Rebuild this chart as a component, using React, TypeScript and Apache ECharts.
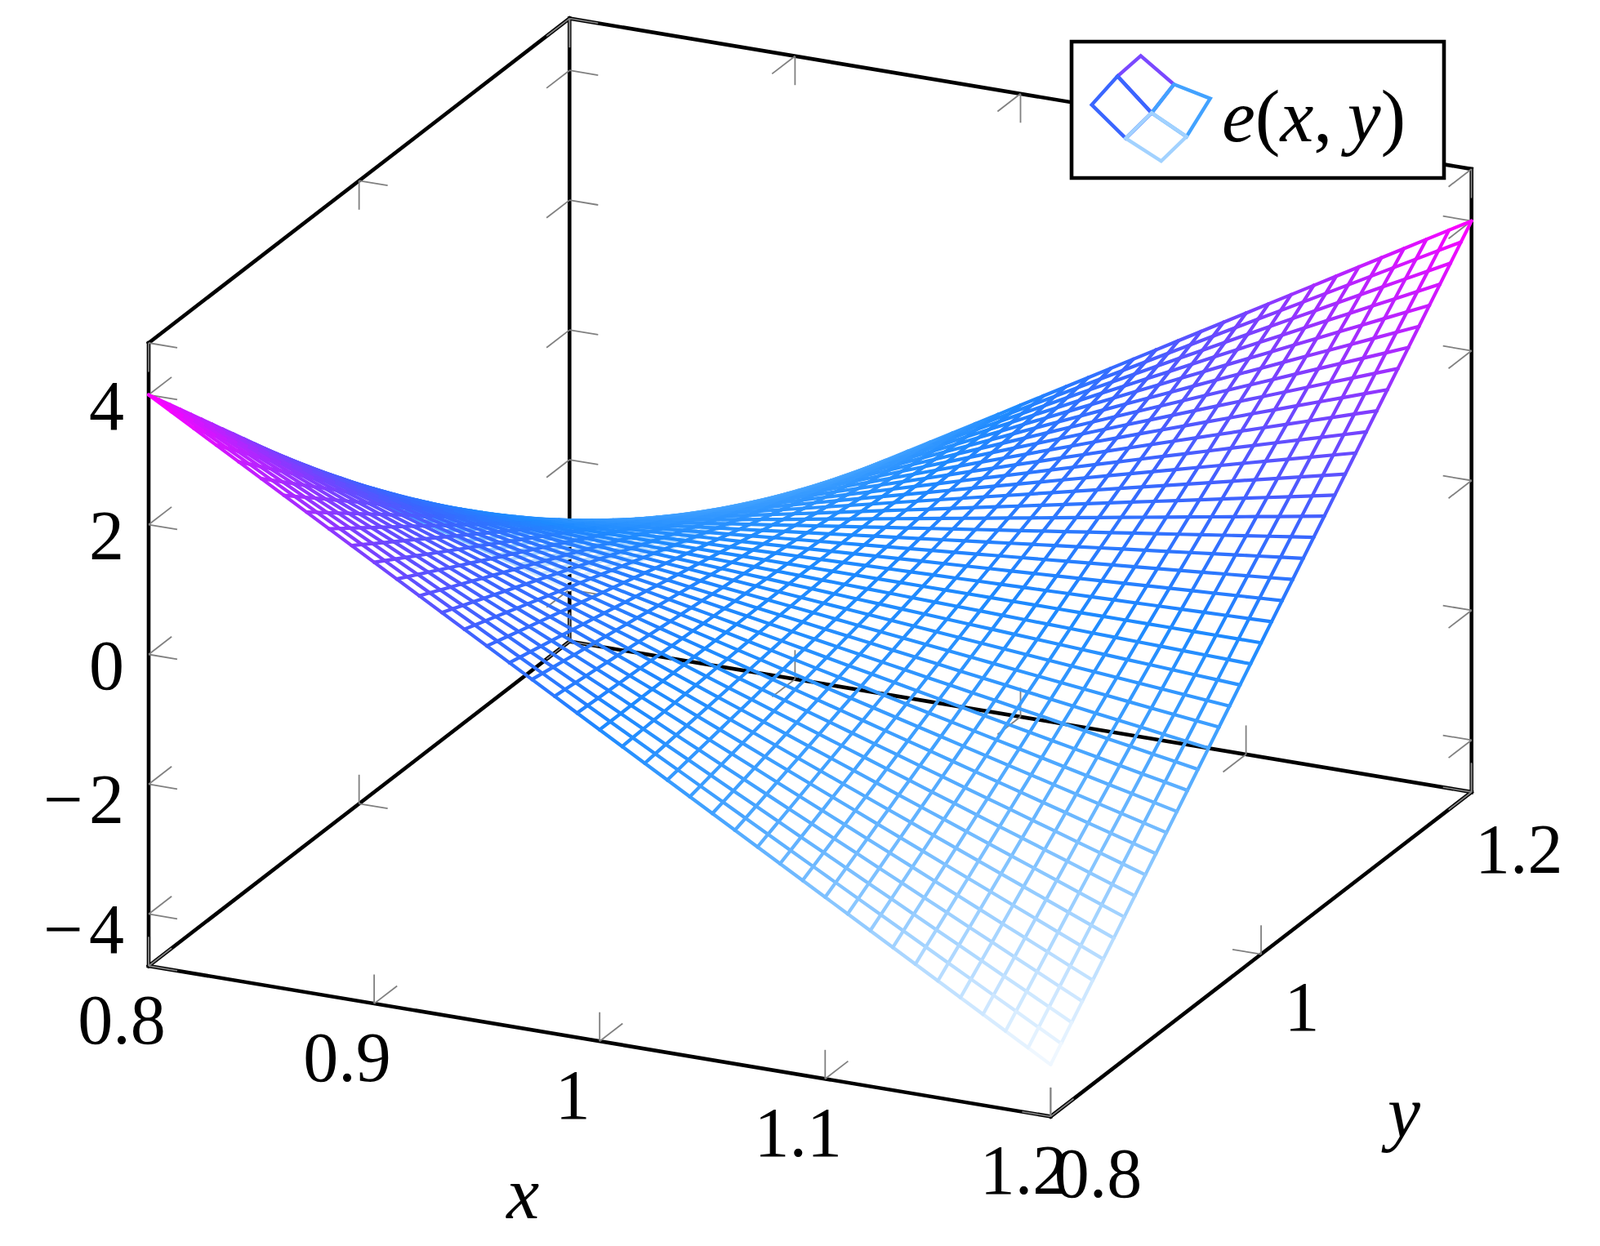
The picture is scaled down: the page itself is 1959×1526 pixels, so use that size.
import React, { useEffect, useRef } from "react";
import * as echarts from "echarts";

const W = 1959;
const H = 1526;

// ---------------- data ----------------
const gridX = [0.8, 0.9, 1.0, 1.1, 1.2];
const gridY = [0.8, 0.9, 1.0, 1.1, 1.2];
// e(x, y) at the tick grid, rows = x, columns = y (ruled saddle surface)
const eValues = [
  [4, 2, 0, -2, -4],
  [2, 1, 0, -1, -2],
  [0, 0, 0, 0, 0],
  [-2, -1, 0, 1, 2],
  [-4, -2, 0, 2, 4],
];
const meshCells = 40;

const xTicks = [0.8, 0.9, 1.0, 1.1, 1.2];
const xTickLabels = ["0.8", "0.9", "1", "1.1", "1.2"];
const yTicks = [0.8, 1.0, 1.2];
const yTickLabels = ["0.8", "1", "1.2"];
const zTicks = [-4, -2, 0, 2, 4];
const zTickLabels = ["\u2212\u200a4", "\u2212\u200a2", "0", "2", "4"];
const legendLabel = "e(x,y)";

// colormap (position 0..1 over the data z range) -> rgb
const cmapPos = [0, 0.25, 0.375, 0.5, 0.625, 0.75, 0.875, 1];
const cmapRGB = [
  [245, 250, 255],
  [130, 195, 255],
  [68, 163, 255],
  [30, 138, 255],
  [58, 102, 255],
  [118, 66, 255],
  [190, 32, 255],
  [255, 0, 255],
];

// ---------------- layout ----------------
const ORIGIN = [182, 1183]; // (xmin, ymin, zlo) on screen
const EX = [1104.4, 184.4];
const EY = [515.3, -397.4];
const EZ = [0, -763];
const FONT = "'Liberation Serif', 'Times New Roman', 'DejaVu Serif', serif";
const FS = 86;
const TICK_LEN = 35.5;

const X_MIN = gridX[0];
const X_MAX = gridX[gridX.length - 1];
const Y_MIN = gridY[0];
const Y_MAX = gridY[gridY.length - 1];
const allZ = eValues.flat();
const Z_DMIN = Math.min(...allZ);
const Z_DMAX = Math.max(...allZ);
const Z_LO = Z_DMIN - 0.1 * (Z_DMAX - Z_DMIN);
const Z_HI = Z_DMAX + 0.1 * (Z_DMAX - Z_DMIN);

function norm(x: number, y: number, z: number) {
  return [
    (x - X_MIN) / (X_MAX - X_MIN),
    (y - Y_MIN) / (Y_MAX - Y_MIN),
    (z - Z_LO) / (Z_HI - Z_LO),
  ];
}
function project(x: number, y: number, z: number): number[] {
  const [nx, ny, nz] = norm(x, y, z);
  return [
    ORIGIN[0] + nx * EX[0] + ny * EY[0] + nz * EZ[0],
    ORIGIN[1] + nx * EX[1] + ny * EY[1] + nz * EZ[1],
  ];
}
// viewing direction (towards the viewer) in normalised box coordinates
const VIEW = [
  -(EY[0] * EZ[1] - EZ[0] * EY[1]),
  -(EZ[0] * EX[1] - EX[0] * EZ[1]),
  -(EX[0] * EY[1] - EY[0] * EX[1]),
];
function depth(x: number, y: number, z: number) {
  const [nx, ny, nz] = norm(x, y, z);
  return VIEW[0] * nx + VIEW[1] * ny + VIEW[2] * nz;
}

function cellIndex(arr: number[], v: number) {
  let i = 0;
  while (i < arr.length - 2 && v > arr[i + 1]) i++;
  return i;
}
// value of the surface between the table's nodes (bilinear patch)
function surface(x: number, y: number) {
  const i = cellIndex(gridX, x);
  const j = cellIndex(gridY, y);
  const tx = (x - gridX[i]) / (gridX[i + 1] - gridX[i]);
  const ty = (y - gridY[j]) / (gridY[j + 1] - gridY[j]);
  const a = eValues[i][j];
  const b = eValues[i + 1][j];
  const c = eValues[i][j + 1];
  const d = eValues[i + 1][j + 1];
  return a * (1 - tx) * (1 - ty) + b * tx * (1 - ty) + c * (1 - tx) * ty + d * tx * ty;
}

function colormap(z: number) {
  let t = (z - Z_DMIN) / (Z_DMAX - Z_DMIN);
  t = Math.max(0, Math.min(1, t));
  let k = 0;
  while (k < cmapPos.length - 2 && t > cmapPos[k + 1]) k++;
  const f = (t - cmapPos[k]) / (cmapPos[k + 1] - cmapPos[k]);
  const c = cmapRGB[k].map((v, n) => Math.round(v + (cmapRGB[k + 1][n] - v) * f));
  return `rgb(${c[0]},${c[1]},${c[2]})`;
}

// ---------------- geometry built from the data ----------------
const meshX: number[] = [];
const meshY: number[] = [];
for (let k = 0; k <= meshCells; k++) {
  meshX.push(X_MIN + ((X_MAX - X_MIN) * k) / meshCells);
  meshY.push(Y_MIN + ((Y_MAX - Y_MIN) * k) / meshCells);
}
const meshSegs: number[][] = [];
for (let i = 0; i <= meshCells; i++) {
  for (let j = 0; j <= meshCells; j++) {
    const x = meshX[i];
    const y = meshY[j];
    const z = surface(x, y);
    if (j < meshCells) {
      const y2 = meshY[j + 1];
      const z2 = surface(x, y2);
      meshSegs.push([x, y, z, x, y2, z2, (z + z2) / 2]);
    }
    if (i < meshCells) {
      const x2 = meshX[i + 1];
      const z2 = surface(x2, y);
      meshSegs.push([x, y, z, x2, y, z2, (z + z2) / 2]);
    }
  }
}
meshSegs.sort(
  (a, b) =>
    depth((a[0] + a[3]) / 2, (a[1] + a[4]) / 2, a[6]) -
    depth((b[0] + b[3]) / 2, (b[1] + b[4]) / 2, b[6])
);

const XS = [X_MIN, X_MAX];
const YS = [Y_MIN, Y_MAX];
const ZS = [Z_LO, Z_HI];
// visible box edges (the three back faces)
const boxEdges: number[][] = [];
const zEdges = [[0, 0], [0, 1], [1, 1]];
const xEdges = [[0, 0], [1, 0], [1, 1]]; // (iy, iz)
const yEdges = [[0, 0], [0, 1], [1, 0]]; // (ix, iz)
zEdges.forEach(([ix, iy]) => boxEdges.push([XS[ix], YS[iy], ZS[0], XS[ix], YS[iy], ZS[1]]));
xEdges.forEach(([iy, iz]) => boxEdges.push([XS[0], YS[iy], ZS[iz], XS[1], YS[iy], ZS[iz]]));
yEdges.forEach(([ix, iz]) => boxEdges.push([XS[ix], YS[0], ZS[iz], XS[ix], YS[1], ZS[iz]]));

// tick marks: [x, y, z, axisDir(0..2), sign]
const tickMarks: number[][] = [];
zEdges.forEach(([ix, iy]) =>
  zTicks.forEach((t) => {
    tickMarks.push([XS[ix], YS[iy], t, 0, ix === 0 ? 1 : -1]);
    tickMarks.push([XS[ix], YS[iy], t, 1, iy === 0 ? 1 : -1]);
  })
);
xEdges.forEach(([iy, iz]) =>
  xTicks.forEach((t) => {
    tickMarks.push([t, YS[iy], ZS[iz], 1, iy === 0 ? 1 : -1]);
    tickMarks.push([t, YS[iy], ZS[iz], 2, iz === 0 ? 1 : -1]);
  })
);
yEdges.forEach(([ix, iz]) =>
  yTicks.forEach((t) => {
    tickMarks.push([XS[ix], t, ZS[iz], 0, ix === 0 ? 1 : -1]);
    tickMarks.push([XS[ix], t, ZS[iz], 2, iz === 0 ? 1 : -1]);
  })
);

// labels: position in data space + kind
type Lab = { p: number[]; text: string; kind: string };
const labels: Lab[] = [];
xTicks.forEach((t, k) => labels.push({ p: [t, Y_MIN, Z_LO], text: xTickLabels[k], kind: "x" }));
yTicks.forEach((t, k) => labels.push({ p: [X_MAX, t, Z_LO], text: yTickLabels[k], kind: "y" }));
zTicks.forEach((t, k) => labels.push({ p: [X_MIN, Y_MIN, t], text: zTickLabels[k], kind: "z" }));
labels.push({ p: [(X_MIN + X_MAX) / 2, Y_MIN, Z_LO], text: "x", kind: "xt" });
labels.push({ p: [X_MAX, (Y_MIN + Y_MAX) / 2, Z_LO], text: "y", kind: "yt" });

const AXDIR = [EX, EY, EZ].map((v) => {
  const l = Math.hypot(v[0], v[1]);
  return [v[0] / l, v[1] / l];
});

function segItem(stroke: (api: any) => string, width: number, cap: string) {
  return (params: any, api: any) => {
    const a = api.coord(project(api.value(0), api.value(1), api.value(2)));
    const b = api.coord(project(api.value(3), api.value(4), api.value(5)));
    return {
      type: "line",
      silent: true,
      shape: { x1: a[0], y1: a[1], x2: b[0], y2: b[1] },
      style: { stroke: stroke(api), lineWidth: width, lineCap: cap },
    };
  };
}

const option: any = {
  animation: false,
  backgroundColor: "#ffffff",
  grid: { left: 0, right: 0, top: 0, bottom: 0 },
  xAxis: { type: "value", min: 0, max: W, show: false },
  yAxis: { type: "value", min: 0, max: H, inverse: true, show: false },
  series: [
    {
      type: "custom",
      name: "box",
      z: 1,
      data: boxEdges,
      renderItem: segItem(() => "#000000", 4.6, "square"),
    },
    {
      type: "custom",
      name: "ticks",
      z: 2,
      data: tickMarks,
      renderItem: (params: any, api: any) => {
        const a = api.coord(project(api.value(0), api.value(1), api.value(2)));
        const d = AXDIR[api.value(3)];
        const s = api.value(4) * TICK_LEN;
        return {
          type: "line",
          silent: true,
          shape: { x1: a[0], y1: a[1], x2: a[0] + d[0] * s, y2: a[1] + d[1] * s },
          style: { stroke: "#808080", lineWidth: 1.8 },
        };
      },
    },
    {
      type: "custom",
      name: "e(x,y)",
      z: 3,
      data: meshSegs,
      renderItem: segItem((api) => colormap(api.value(6)), 4.2, "round"),
    },
    {
      type: "custom",
      name: "labels",
      z: 4,
      data: labels.map((l) => l.p),
      renderItem: (params: any, api: any) => {
        const lab = labels[params.dataIndex];
        const a = api.coord(project(api.value(0), api.value(1), api.value(2)));
        let x = a[0];
        let y = a[1];
        let align = "center";
        let italic = false;
        if (lab.kind === "x") {
          x += -33;
          y += 66;
        } else if (lab.kind === "y") {
          const narrow = lab.text.length === 1;
          x += narrow ? 50 : 58;
          y += narrow ? 64 : 70;
        } else if (lab.kind === "z") {
          x -= 30;
          y += lab.text.startsWith("\u2212") ? 19 : 13;
          align = "right";
        } else if (lab.kind === "xt") {
          x += -94;
          y += 186;
          italic = true;
        } else if (lab.kind === "yt") {
          x += 175;
          y += 194;
          italic = true;
        }
        return {
          type: "text",
          silent: true,
          x,
          y,
          style: {
            text: lab.text,
            fill: "#000000",
            fontFamily: FONT,
            fontSize: italic ? 90 : FS,
            fontStyle: italic ? "italic" : "normal",
            align,
            verticalAlign: "middle",
          },
        };
      },
    },
  ],
  graphic: [
    {
      type: "rect",
      z: 100,
      silent: true,
      shape: { x: 1312, y: 51, width: 456, height: 167 },
      style: { fill: "#ffffff", stroke: "#000000", lineWidth: 4.6 },
    },
    ...[
      { pts: [[1396.7, 68.3], [1437.3, 103.3], [1410, 138.3], [1368.3, 93.3]], c: "#7a48ff" },
      { pts: [[1368.3, 93.3], [1410, 138.3], [1378.3, 169.3], [1336.7, 128.3]], c: "#3a66ff" },
      { pts: [[1437.3, 103.3], [1481.7, 120.7], [1452.7, 167.3], [1410, 138.3]], c: "#42a2ff" },
      { pts: [[1410, 138.3], [1452.7, 167.3], [1421.7, 197.3], [1378.3, 169.3]], c: "#a2d2ff" },
    ].map((q) => ({
      type: "polygon",
      z: 101,
      silent: true,
      shape: { points: q.pts },
      style: { fill: "none", stroke: q.c, lineWidth: 4.4 },
    })),
    {
      type: "text",
      z: 102,
      silent: true,
      x: 1496,
      y: 142,
      style: {
        text: "{i|e}{r|(}{i|x}{r|,\u2009}{i|y}{r|)}",
        align: "left",
        verticalAlign: "middle",
        fill: "#000000",
        fontFamily: FONT,
        fontSize: 92,
        rich: {
          i: { fontFamily: FONT, fontSize: 92, fontStyle: "italic", fill: "#000000" },
          r: { fontFamily: FONT, fontSize: 92, fontStyle: "normal", fill: "#000000" },
        },
      },
    },
  ],
};

export default function App() {
  const ref = useRef<HTMLDivElement>(null);
  useEffect(() => {
    document.body.style.margin = "0";
    const chart = echarts.init(ref.current as HTMLDivElement, null, { renderer: "svg" });
    chart.setOption(option);
    return () => chart.dispose();
  }, []);
  return (
    <div
      ref={ref}
      aria-label={legendLabel}
      style={{ position: "fixed", left: 0, top: 0, width: W, height: H, background: "#ffffff" }}
    />
  );
}
